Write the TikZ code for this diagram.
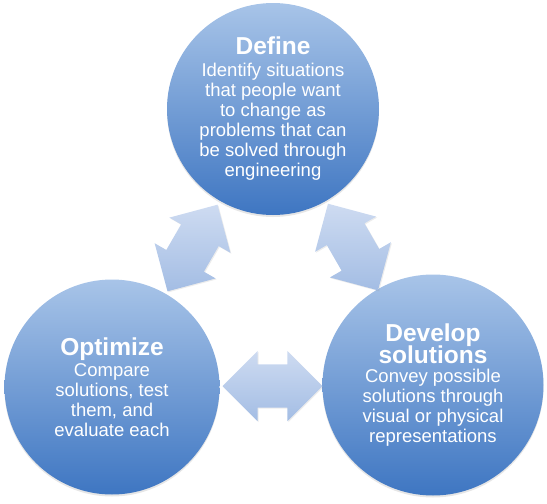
\documentclass[tikz,border=0pt]{standalone}
\usepackage{fontspec}
\setmainfont{Liberation Sans}
\usetikzlibrary{calc,shapes.arrows,shadows}
\definecolor{circtop}{RGB}{168,196,232}
\definecolor{circbot}{RGB}{62,118,194}
\definecolor{arrtop}{RGB}{206,219,241}
\definecolor{arrbot}{RGB}{163,189,228}
\newcommand{\steptitle}{\fontsize{24.5}{24}\selectfont\bfseries}
\begin{document}
\begin{tikzpicture}
    [ x=1pt, y=-1pt
    , stage/.style={circle, inner sep=0pt, top color=circtop, bottom color=circbot,
        text=white, align=center, font=\fontsize{18.5}{20}\selectfont,
        drop shadow={opacity=.2, shadow xshift=0pt, shadow yshift=-2pt}}
    , twoway/.style={double arrow, inner xsep=0pt, inner ysep=21.5pt,
        minimum height=100pt, double arrow head extend=13.5pt, double arrow tip angle=90,
        top color=arrtop, bottom color=arrbot,
        drop shadow={opacity=.15, shadow xshift=1pt, shadow yshift=-1pt}}
    ]
\useasboundingbox (0,0) rectangle (547,504);
\node[stage, minimum size=212pt] (def) at (273,109)
    {{\steptitle Define}\\[2pt] Identify situations\\ that people want\\ to change as\\
     problems that can\\ be solved through\\ engineering};
\node[stage, minimum size=215pt] (opt) at (112,387)
    {{\steptitle Optimize}\\[1pt] Compare\\ solutions, test\\ them, and\\ evaluate each};
\node[stage, minimum size=221pt] (dev) at (433,385)
    {{\steptitle Develop}\\[-1pt] {\steptitle solutions}\\[-1pt] Convey possible\\
     solutions through\\ visual or physical\\ representations};
% arrows between the stages
\node[twoway, rotate=60] (od) at ($(opt)!0.5!(def)$) {};
\node[twoway, rotate=-60] (dd) at ($(def)!0.5!(dev)$) {};
\node[twoway] (ov) at ($(opt)!0.5!(dev)$) {};
\end{tikzpicture}
\end{document}
